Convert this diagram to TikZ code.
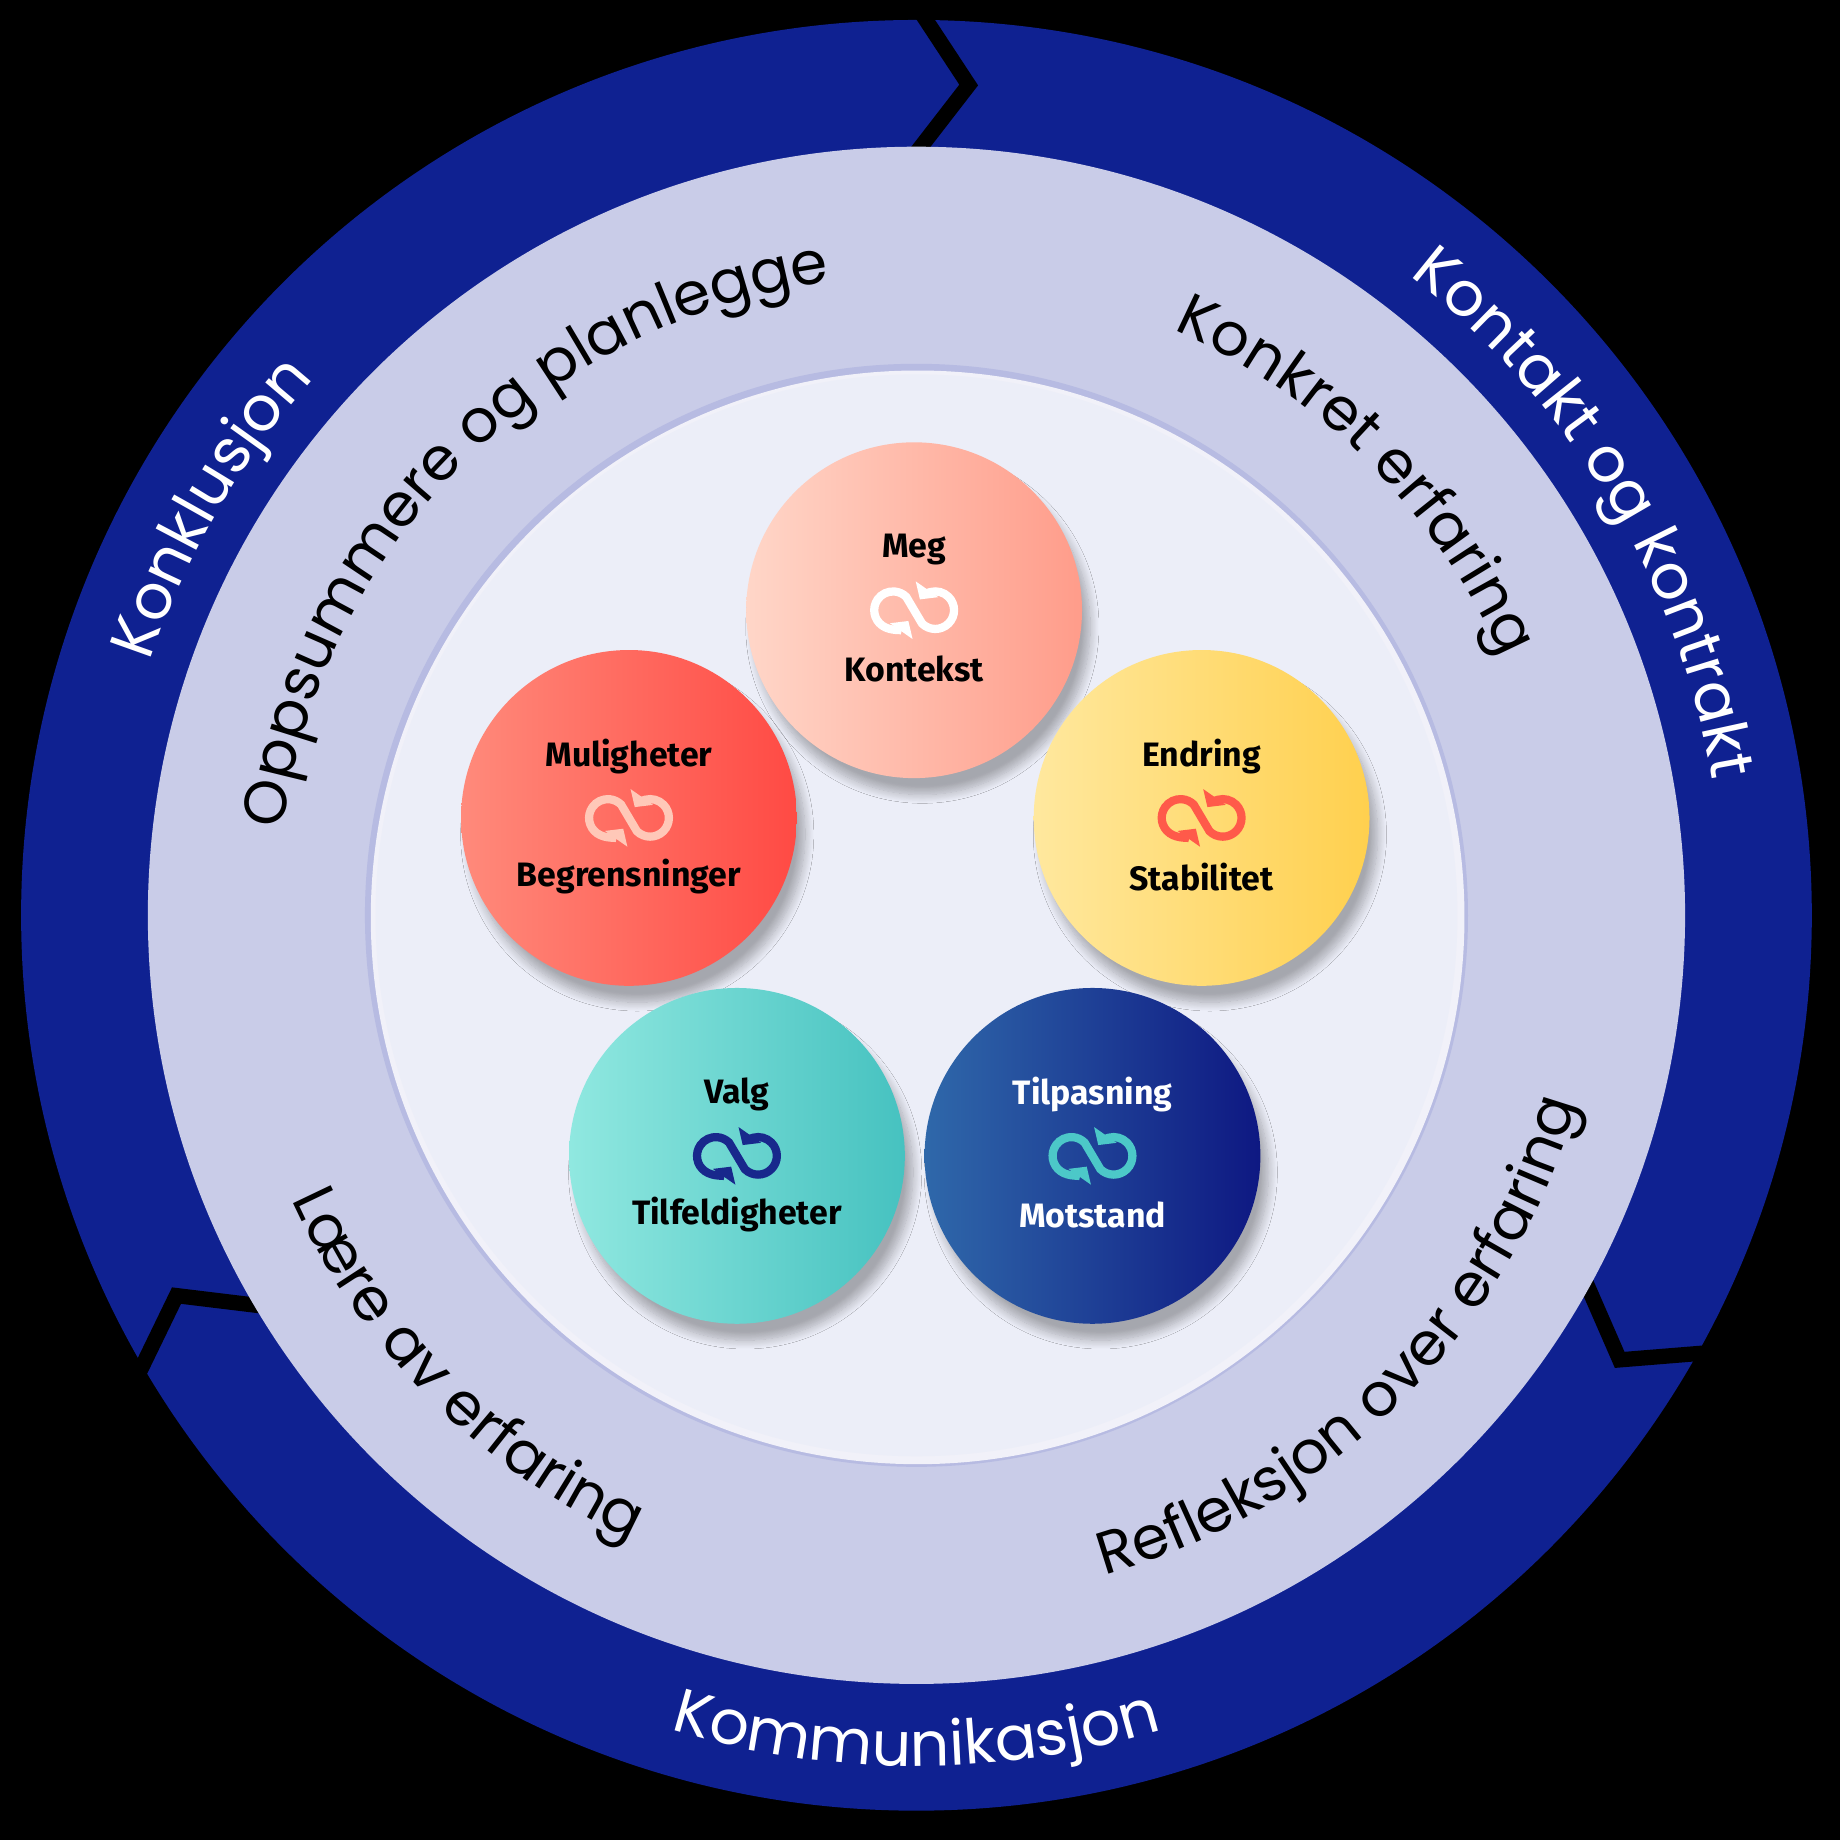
\documentclass[tikz,border=0pt]{standalone}
\usepackage{fontspec}
\setmainfont{Fira Sans}
\newfontfamily\ringfont{Poppins}
\usetikzlibrary{decorations.text,shadows.blur,arrows.meta}
\definecolor{ringblue}{HTML}{0F2191}
\definecolor{lav}{HTML}{C9CCE8}
\definecolor{lavb}{HTML}{B7BBE2}
\definecolor{disc}{HTML}{ECEEF8}
\definecolor{megL}{HTML}{FFD6C8}\definecolor{megR}{HTML}{FF9C8A}
\definecolor{mulL}{HTML}{FF8A7B}\definecolor{mulR}{HTML}{FF4A44}
\definecolor{endL}{HTML}{FFE89E}\definecolor{endR}{HTML}{FFD04E}
\definecolor{valL}{HTML}{90E8E0}\definecolor{valR}{HTML}{46C2C0}
\definecolor{tipL}{HTML}{2F68AA}\definecolor{tipR}{HTML}{0E1882}
\definecolor{icMul}{HTML}{FFC8B8}
\definecolor{icEnd}{HTML}{FF5A4A}
\definecolor{icVal}{HTML}{18288C}
\definecolor{icTip}{HTML}{4CC8C8}
\tikzset{
  bub/.style={circle,minimum size=2.86cm,inner sep=0pt,
    blur shadow={shadow xshift=2pt,shadow yshift=-4pt,shadow opacity=30,shadow blur steps=12}},
  lab/.style={font=\bfseries\fontsize{8.2pt}{9pt}\selectfont,inner sep=0pt},
  inf/.pic={\draw[line width=2pt,{Triangle[length=3pt,width=6.5pt]}-{Triangle[length=3pt,width=6.5pt]}]
     (-18,0) ++(325:16) arc[start angle=325,end angle=45,radius=16]
     -- ++(13.4,-22.6) arc[start angle=225,end angle=505,radius=16];},
  chev/.style={line width=0.13cm,black,line join=miter},
  rtext/.style={decorate,decoration={text along path,text align=center,
     text color=#1}},
}
\begin{document}
\begin{tikzpicture}[x=0.01cm,y=0.01cm]
\useasboundingbox (-781,-788) rectangle (787,780);
\fill[black] (-781,-788) rectangle (787,780);
% blue ring
\fill[ringblue] (0,0) circle[radius=763];
\foreach \a in {90.7,-28,211.5}
  \draw[chev] (\a:790) -- (\a-4.3:709) -- (\a:640);
% lavender ring
\fill[lav] (0,0) circle[radius=655];
\fill[lavb] (0,0) circle[radius=470];
\fill[white!80!lavb] (0,0) ++(-60:2) circle[radius=466];
\fill[disc] (0,0) circle[radius=461];
% bubbles
\node[bub,left color=megL,right color=megR] (meg) at (-2,260) {};
\node[bub,left color=mulL,right color=mulR] (mul) at (-245,83) {};
\node[bub,left color=endL,right color=endR] (end) at (243,83) {};
\node[bub,left color=valL,right color=valR] (val) at (-153,-205) {};
\node[bub,left color=tipL,right color=tipR] (tip) at (150,-205) {};
% labels
\node[lab] (megt) at (-2,312) {Meg};
\node[lab] (megb) at (-2,210) {Kontekst};
\node[lab] (mult) at (-245,135) {Muligheter};
\node[lab] (mulb) at (-245,33) {Begrensninger};
\node[lab] (endt) at (243,135) {Endring};
\node[lab] (endb) at (243,33) {Stabilitet};
\node[lab] (valt) at (-153,-153) {Valg};
\node[lab] (valb) at (-153,-255) {Tilfeldigheter};
\node[lab,white] (tipt) at (150,-153) {Tilpasning};
\node[lab,white] (tipb) at (150,-255) {Motstand};
% icons
\pic[white] at (-2,260) {inf};
\pic[icMul] at (-245,83) {inf};
\pic[icEnd] at (243,83) {inf};
\pic[icVal] at (-153,-205) {inf};
\pic[icTip] at (150,-205) {inf};
% ring texts
\path[rtext=white,decoration={text={|\ringfont\fontsize{15pt}{15pt}\selectfont|Konklusjon}}]
  (175:688) arc[start angle=175,end angle=125,radius=688];
\path[rtext=white,decoration={text={|\ringfont\fontsize{15pt}{15pt}\selectfont|Kontakt og kontrakt}}]
  (64:688) arc[start angle=64,end angle=-2,radius=688];
\path[rtext=white,decoration={text={|\ringfont\fontsize{15pt}{15pt}\selectfont|Kommunikasjon}}]
  (235:725) arc[start angle=235,end angle=305,radius=725];
\path[rtext=black,decoration={text={|\ringfont\fontsize{14.5pt}{15pt}\selectfont|Oppsummere og planlegge}}]
  (178:545) arc[start angle=178,end angle=92,radius=545];
\path[rtext=black,decoration={text={|\ringfont\fontsize{14.5pt}{15pt}\selectfont|Konkret erfaring}}]
  (80:545) arc[start angle=80,end angle=10,radius=545];
\path[rtext=black,decoration={text={|\ringfont\fontsize{14.5pt}{15pt}\selectfont|Lære av erfaring}}]
  (190:585) arc[start angle=190,end angle=260,radius=585];
\path[rtext=black,decoration={text={|\ringfont\fontsize{14.5pt}{15pt}\selectfont|Refleksjon over erfaring}}]
  (272:585) arc[start angle=272,end angle=358,radius=585];
\end{tikzpicture}
\end{document}
